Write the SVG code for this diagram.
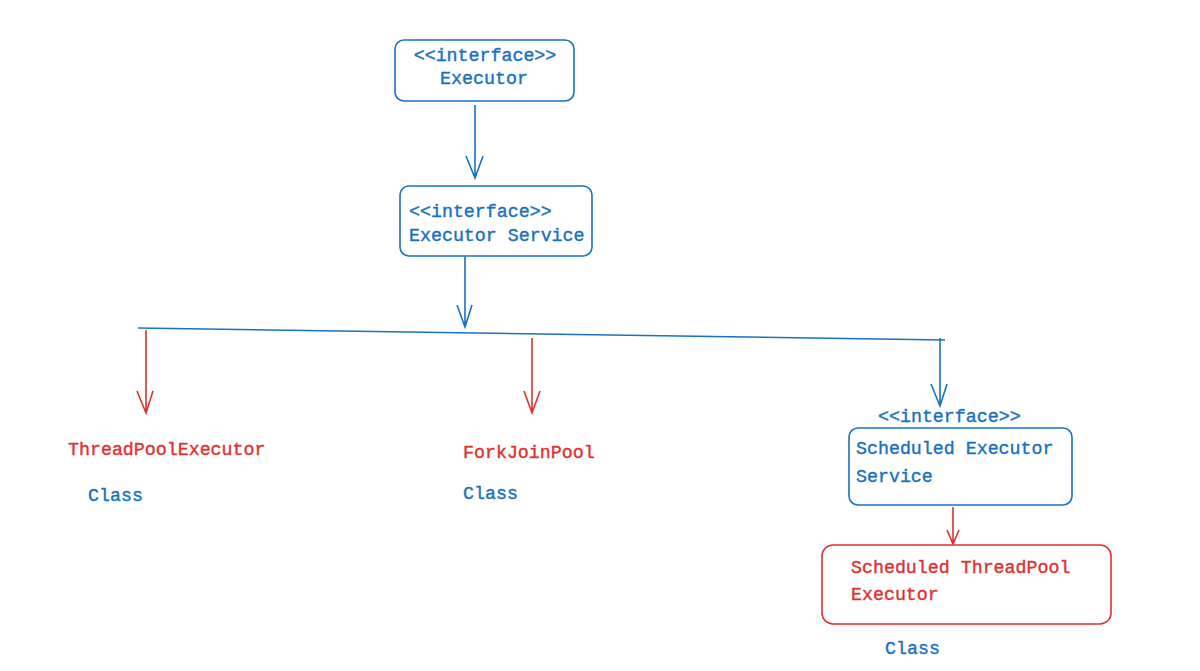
<svg xmlns="http://www.w3.org/2000/svg" width="1200" height="671" viewBox="0 0 1200 671">
<style>
.b{fill:none;stroke:#1971c2;stroke-width:1.6}
.r{fill:none;stroke:#e03131;stroke-width:1.6}
text{font-family:"Liberation Mono",monospace;font-size:18.3px;stroke-width:0.4}
.tb{fill:#1971c2;stroke:#1971c2}.tr{fill:#e03131;stroke:#e03131}
</style>
<rect width="1200" height="671" fill="#fff"/>
<g id="executor"><rect class="b" x="395" y="40" width="179" height="61" rx="9"/>
<text class="tb" x="485" y="61" text-anchor="middle">&lt;&lt;interface&gt;&gt;</text>
<text class="tb" x="484" y="84" text-anchor="middle">Executor</text></g>
<g id="executorService"><rect class="b" x="400" y="186" width="192" height="70" rx="9"/>
<text class="tb" x="409" y="217">&lt;&lt;interface&gt;&gt;</text>
<text class="tb" x="409" y="241">Executor Service</text></g>
<g id="threadPoolExecutor"><text class="tr" x="68" y="455">ThreadPoolExecutor</text>
<text class="tb" x="88" y="501">Class</text></g>
<g id="forkJoinPool"><text class="tr" x="463" y="458">ForkJoinPool</text>
<text class="tb" x="463" y="499">Class</text></g>
<g id="scheduledExecutorService"><text class="tb" x="878" y="422">&lt;&lt;interface&gt;&gt;</text>
<rect class="b" x="849" y="428" width="223" height="77" rx="9"/>
<text class="tb" x="856" y="454">Scheduled Executor</text>
<text class="tb" x="856" y="482">Service</text></g>
<g id="scheduledThreadPoolExecutor"><rect class="r" x="822" y="545" width="289" height="79" rx="11"/>
<text class="tr" x="851" y="573">Scheduled ThreadPool</text>
<text class="tr" x="851" y="600">Executor</text>
<text class="tb" x="885" y="654">Class</text></g>
<g id="connectors">
<path class="b" d="M475 105 L475 178 M466 156 L475 178 L483 156"/>
<path class="b" d="M465 256 L465 327 M457 305 L465 327 L472 305"/>
<path class="b" d="M138 328 L945 340"/>
<path class="r" d="M146 330 L146 413 M137 391 L146 413 L153 391"/>
<path class="r" d="M532 338 L532 413 M524 391 L532 413 L540 391"/>
<path class="b" d="M940 338 L940 406 M931 384 L940 406 L947 384"/>
<path class="r" d="M953 507 L953 544 M947 530 L953 544 L959 530"/>
</g>
</svg>
